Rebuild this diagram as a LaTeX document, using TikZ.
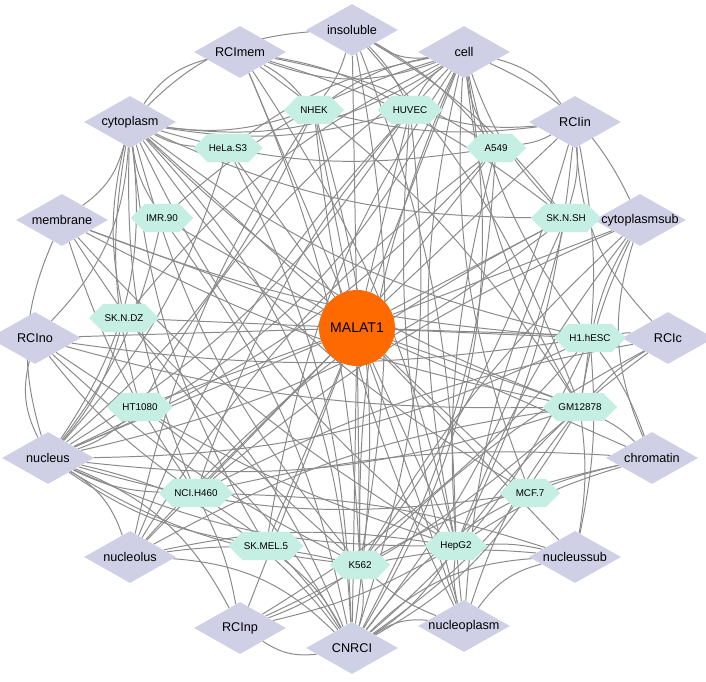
\documentclass[tikz,border=0pt]{standalone}
\usepackage{fontspec}
\setmainfont{Liberation Sans}
\usetikzlibrary{shapes.geometric,shapes.symbols,backgrounds}
\definecolor{dcol}{HTML}{CFCFE6}
\definecolor{hcol}{HTML}{C6EFE4}
\definecolor{ocol}{HTML}{FF6A00}
\definecolor{ecol}{HTML}{8A8A8A}
\tikzset{
 dia/.style={diamond,fill=dcol,minimum width=2.3cm,minimum height=1.3cm,inner sep=0pt,label={[font=\small]center:#1}},
 hexa/.style={signal,signal to=east and west,fill=hcol,minimum width=1.5cm,minimum height=0.7cm,inner sep=1pt,font=\scriptsize},
 hub/.style={circle,fill=ocol,minimum size=1.9cm,font=\normalsize},
 ed/.style={draw=ecol,line width=0.7pt},
}
\begin{document}
\begin{tikzpicture}[x=0.025cm,y=-0.025cm]
\useasboundingbox (0,0) rectangle (706,682);
\node[dia=insoluble] (insoluble) at (352,30) {};
\node[dia=RCImem] (RCImem) at (240,52) {};
\node[dia=cell] (cell) at (464,52) {};
\node[dia=cytoplasm] (cytoplasm) at (130,122) {};
\node[dia=RCIin] (RCIin) at (575,122) {};
\node[dia=membrane] (membrane) at (62,220) {};
\node[dia=cytoplasmsub] (cytoplasmsub) at (640,220) {};
\node[dia=RCIno] (RCIno) at (35,338) {};
\node[dia=RCIc] (RCIc) at (668,338) {};
\node[dia=nucleus] (nucleus) at (48,458) {};
\node[dia=chromatin] (chromatin) at (652,458) {};
\node[dia=nucleolus] (nucleolus) at (130,557) {};
\node[dia=nucleussub] (nucleussub) at (575,557) {};
\node[dia=RCInp] (RCInp) at (240,628) {};
\node[dia=nucleoplasm] (nucleoplasm) at (464,626) {};
\node[dia=CNRCI] (CNRCI) at (352,648) {};
\node[hexa] (NHEK) at (314,110) {NHEK};
\node[hexa] (HUVEC) at (410,110) {HUVEC};
\node[hexa] (HeLa) at (228,148) {HeLa.S3};
\node[hexa] (A549) at (496,148) {A549};
\node[hexa] (IMR) at (162,218) {IMR.90};
\node[hexa] (SKNSH) at (566,218) {SK.N.SH};
\node[hexa] (SKNDZ) at (124,318) {SK.N.DZ};
\node[hexa] (H1) at (590,338) {H1.hESC};
\node[hexa] (HT) at (140,407) {HT1080};
\node[hexa] (GM) at (580,407) {GM12878};
\node[hexa] (NCI) at (196,493) {NCI.H460};
\node[hexa] (MCF) at (530,493) {MCF.7};
\node[hexa] (SKMEL) at (266,546) {SK.MEL.5};
\node[hexa] (HepG2) at (456,546) {HepG2};
\node[hexa] (K562) at (360,565) {K562};
\node[hub] (M) at (357,328) {MALAT1};
\begin{pgfonlayer}{background}
\foreach \n in {insoluble,RCImem,cell,cytoplasm,RCIin,membrane,cytoplasmsub,RCIno,RCIc,nucleus,chromatin,nucleolus,nucleussub,RCInp,nucleoplasm,CNRCI,NHEK,HUVEC,HeLa,A549,IMR,SKNSH,SKNDZ,H1,HT,GM,NCI,MCF,SKMEL,HepG2,K562}
  \draw[ed] (M) -- (\n);
\foreach \h in {NHEK,HUVEC,HeLa,A549,IMR,SKNSH,SKNDZ,H1,HT,GM,NCI,MCF,SKMEL,HepG2,K562}
  \foreach \d in {cell,cytoplasm,nucleus,CNRCI}
    \draw[ed] (\h) to[bend left=12] (\d);
\foreach \h in {NHEK,HUVEC,A549,GM,K562,HepG2,SKNSH}
  \foreach \d in {insoluble,RCImem,RCIin,nucleoplasm,nucleolus}
    \draw[ed] (\h) to[bend right=10] (\d);
\foreach \h in {H1,GM,K562,HepG2,NCI}
  \foreach \d in {membrane,RCIno,chromatin,nucleussub,RCInp,cytoplasmsub,RCIc}
    \draw[ed] (\h) to[bend left=8] (\d);
\foreach \a/\b in {cell/insoluble,cell/RCImem,cell/cytoplasm,cell/RCIin,cell/cytoplasmsub,cell/nucleus,cell/CNRCI,cytoplasm/membrane,cytoplasm/RCIno,cytoplasm/nucleus,cytoplasm/insoluble,cytoplasm/RCImem,nucleus/nucleolus,nucleus/RCInp,nucleus/CNRCI,nucleus/RCIno,nucleus/membrane,CNRCI/nucleoplasm,CNRCI/nucleussub,CNRCI/chromatin,CNRCI/RCInp,nucleoplasm/nucleussub,chromatin/cytoplasmsub,RCIc/RCIin,nucleolus/CNRCI,cytoplasm/CNRCI}
  \draw[ed] (\a) to[bend left=20] (\b);
\end{pgfonlayer}
\end{tikzpicture}
\end{document}
